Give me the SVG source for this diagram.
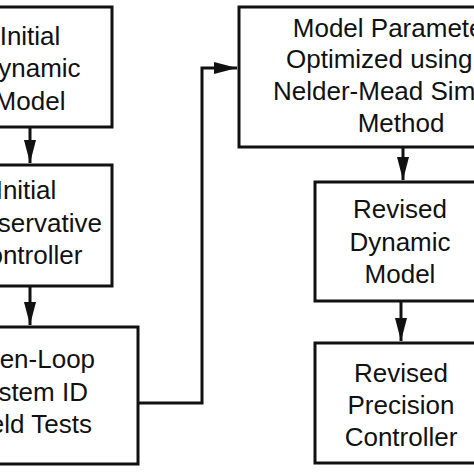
<svg xmlns="http://www.w3.org/2000/svg" width="474" height="474" viewBox="0 0 474 474">
<style>
.box{fill:#fff;stroke:#111;stroke-width:3}
.lbl{font-family:"Liberation Sans",Arial,sans-serif;font-size:26px;fill:#111;text-anchor:middle}
.con{fill:none;stroke:#111;stroke-width:3}
</style>
<defs>
<marker id="ah" markerUnits="userSpaceOnUse" markerWidth="24" markerHeight="12" refX="23" refY="6" orient="auto">
<path d="M0,0 L23,6 L0,12 z" fill="#111"/>
</marker>
</defs>
<rect width="474" height="474" fill="#fff"/>
<g id="connectors">
<path class="con" d="M30,127 V163" marker-end="url(#ah)"/>
<path class="con" d="M30,286 V325" marker-end="url(#ah)"/>
<path class="con" d="M138,403 H202 V68 H237" marker-end="url(#ah)"/>
<path class="con" d="M403,147 V180" marker-end="url(#ah)"/>
<path class="con" d="M401,301 V341" marker-end="url(#ah)"/>
</g>
<g id="n1">
<rect class="box" x="-52" y="7" width="164" height="120"/>
<text class="lbl"><tspan x="30" y="45">Initial</tspan><tspan x="30" y="77">Dynamic</tspan><tspan x="30" y="110">Model</tspan></text>
</g>
<g id="n2">
<rect class="box" x="-52" y="165" width="164" height="121"/>
<text class="lbl"><tspan x="26" y="199">Initial</tspan><tspan x="26" y="232">Conservative</tspan><tspan x="26" y="264">Controller</tspan></text>
</g>
<g id="n3">
<rect class="box" x="-68" y="327" width="206" height="137"/>
<text class="lbl"><tspan x="30" y="368">Open-Loop</tspan><tspan x="28" y="401">System ID</tspan><tspan x="30" y="433">Field Tests</tspan></text>
</g>
<g id="n4">
<rect class="box" x="239" y="7" width="324" height="140"/>
<text class="lbl"><tspan x="399" y="37">Model Parameters</tspan><tspan x="286" y="68" text-anchor="start">Optimized using</tspan><tspan x="398" y="100">Nelder-Mead Simplex</tspan><tspan x="401" y="132">Method</tspan></text>
</g>
<g id="n5">
<rect class="box" x="315" y="182" width="172" height="119"/>
<text class="lbl"><tspan x="400" y="218">Revised</tspan><tspan x="400" y="251">Dynamic</tspan><tspan x="400" y="283">Model</tspan></text>
</g>
<g id="n6">
<rect class="box" x="315" y="343" width="172" height="120"/>
<text class="lbl"><tspan x="401" y="382">Revised</tspan><tspan x="401" y="414">Precision</tspan><tspan x="401" y="446">Controller</tspan></text>
</g>
</svg>
